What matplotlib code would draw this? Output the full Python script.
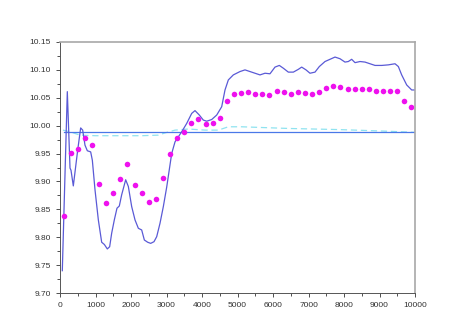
import matplotlib
matplotlib.use("Agg")
import matplotlib.pyplot as plt
from matplotlib.ticker import MultipleLocator
import numpy as np

# Blue curve
curve_x = [65, 206, 282, 310, 375, 498, 582, 639, 704, 770, 864, 911, 986, 1080, 1174,
           1249, 1333, 1399, 1455, 1530, 1605, 1671, 1737, 1850, 1925, 2019, 2113, 2207,
           2301, 2376, 2470, 2555, 2648, 2724, 2817, 2911, 3006, 3146, 3240, 3333, 3428,
           3569, 3710, 3803, 3925, 4037, 4132, 4273, 4414, 4555, 4648, 4742, 4882, 5070,
           5211, 5352, 5493, 5634, 5775, 5915, 6056, 6178, 6291, 6432, 6573, 6714, 6808,
           6930, 7042, 7183, 7305, 7465, 7606, 7747, 7887, 8028, 8122, 8216, 8310, 8451,
           8592, 8733, 8874, 9062, 9249, 9437, 9531, 9625, 9766, 9907, 10000]
curve_y = [9.740, 10.061, 9.924, 9.920, 9.892, 9.956, 9.996, 9.992, 9.965, 9.955, 9.953,
           9.938, 9.885, 9.831, 9.791, 9.787, 9.779, 9.783, 9.807, 9.831, 9.852, 9.856,
           9.876, 9.903, 9.891, 9.855, 9.831, 9.816, 9.813, 9.795, 9.791, 9.789, 9.792,
           9.801, 9.825, 9.855, 9.890, 9.950, 9.971, 9.980, 9.989, 10.004, 10.022, 10.027,
           10.019, 10.010, 10.008, 10.011, 10.019, 10.034, 10.064, 10.082, 10.091, 10.097,
           10.100, 10.097, 10.094, 10.091, 10.094, 10.093, 10.105, 10.108, 10.103, 10.096,
           10.096, 10.101, 10.105, 10.100, 10.094, 10.096, 10.106, 10.115, 10.119, 10.123,
           10.120, 10.114, 10.115, 10.119, 10.113, 10.115, 10.114, 10.111, 10.108, 10.108,
           10.109, 10.111, 10.106, 10.091, 10.073, 10.064, 10.064]

# Magenta dots
dots_x = list(range(100, 10000, 200))
dots_y = [9.838, 9.951, 9.959, 9.977, 9.965, 9.895, 9.861, 9.879, 9.904, 9.931, 9.893,
          9.879, 9.864, 9.868, 9.907, 9.949, 9.978, 9.989, 10.005, 10.012, 10.003, 10.004,
          10.014, 10.045,
          10.057, 10.058, 10.060, 10.056, 10.056, 10.055, 10.063, 10.060, 10.057, 10.060,
          10.059, 10.056, 10.060, 10.068, 10.072, 10.070, 10.066, 10.066, 10.066, 10.066,
          10.062, 10.062, 10.063, 10.062, 10.045, 10.034]

# Cyan dashed line
cyan_x = [85, 282, 563, 1000, 1500, 2300, 2770, 2958, 3240, 3615, 4085, 4460, 4742,
          5117, 6432, 7840, 9249, 10000]
cyan_y = [9.992, 9.989, 9.983, 9.982, 9.982, 9.982, 9.983, 9.987, 9.992, 9.994, 9.992,
          9.992, 9.998, 9.998, 9.995, 9.993, 9.990, 9.988]

# Horizontal reference
ref_x = [100, 10000]
ref_y = [9.988, 9.988]

plt.rcParams['font.family'] = ['Liberation Sans', 'DejaVu Sans']

fig = plt.figure(figsize=(4.74, 3.35), dpi=100)
ax = fig.add_axes([60/474, 42/335, 355/474, 251/335])

ax.plot(cyan_x, cyan_y, color='#8fe3f0', lw=0.9, ls=(0, (5, 3)))
ax.plot(ref_x, ref_y, color='#4a78e8', lw=0.9)
ax.plot(curve_x, curve_y, color='#5a5ad6', lw=0.9)
ax.plot(dots_x, dots_y, ls='none', marker='o', ms=4, color='#ee11ee', mec='none')

ax.set_xlim(0, 10000)
ax.set_ylim(9.70, 10.15)
ax.set_xticks(np.arange(0, 10001, 1000))
ax.set_yticks(np.round(np.arange(9.70, 10.151, 0.05), 2))
ax.set_yticklabels([f"{v:.2f}" for v in np.arange(9.70, 10.151, 0.05)])
ax.xaxis.set_minor_locator(MultipleLocator(500))
ax.yaxis.set_minor_locator(MultipleLocator(0.025))
ax.tick_params(which='both', direction='out', labelsize=6, colors='#333333', width=0.6)
ax.tick_params(which='major', length=3)
ax.tick_params(which='minor', length=2)
for s in ['top', 'right']:
    ax.spines[s].set_color('#a8a8a8')
    ax.spines[s].set_linewidth(1.2)
for s in ['left', 'bottom']:
    ax.spines[s].set_color('#555555')
    ax.spines[s].set_linewidth(0.7)

fig.savefig('out.png', dpi=100)
